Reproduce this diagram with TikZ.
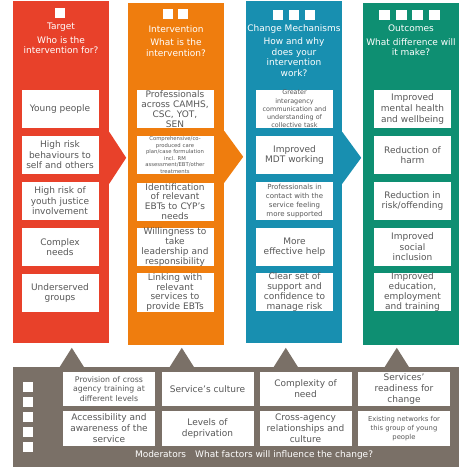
\documentclass[tikz,border=0pt]{standalone}
\usepackage{fontspec}
\setmainfont{DejaVu Sans}
\usetikzlibrary{positioning,calc}
\definecolor{targetred}{RGB}{232,65,42}
\definecolor{interorange}{RGB}{239,125,14}
\definecolor{mechteal}{RGB}{24,143,176}
\definecolor{outgreen}{RGB}{14,143,114}
\definecolor{modgray}{RGB}{122,112,103}
\definecolor{boxtext}{RGB}{88,88,88}

\begin{document}
\begin{tikzpicture}[x=1pt, y=-1pt,
    column/.style={rectangle, minimum width=96pt, minimum height=342pt, inner sep=0pt},
    header/.style={anchor=north, text=white, align=center, inner sep=0pt, font=\fontsize{9}{10.5}\selectfont},
    item/.style={rectangle, fill=white, minimum width=77pt, minimum height=38pt, text width=75pt, align=center, inner sep=0pt, text=boxtext, font=\fontsize{9}{10.6}\selectfont},
    fourline/.style={font=\fontsize{9}{9.9}\selectfont},
    small/.style={font=\fontsize{6.4}{8.3}\selectfont},
    tiny/.style={font=\fontsize{5.3}{6.6}\selectfont},
    factor/.style={rectangle, fill=white, minimum width=92pt, minimum height=34.5pt, text width=90pt, align=center, inner sep=0pt, text=boxtext, font=\fontsize{9}{11}\selectfont},
    sqbox/.style={fill=white}
]
    \useasboundingbox (0,0) rectangle (474,474);

    \node[column, fill=targetred] (target) at (61,172) {};
    \node[column, fill=interorange] (inter) at (176,173.5) {};
    \node[column, fill=mechteal] (mech) at (294,172) {};
    \node[column, fill=outgreen] (outcome) at (411,173.5) {};

    \fill[targetred] ($(target.north east)+(0,131)$) -- ++(17,26) -- ++(-17,26) -- cycle;
    \fill[interorange] ($(inter.north east)+(0,128.5)$) -- ++(19,26) -- ++(-19,26) -- cycle;
    \fill[mechteal] ($(mech.north east)+(0,131)$) -- ++(19,26) -- ++(-19,26) -- cycle;

    \fill[sqbox] (55,8) rectangle ++(10,10);
    \foreach \x in {163,178} \fill[sqbox] (\x,9) rectangle ++(10,10);
    \foreach \x in {273,289,305} \fill[sqbox] (\x,10) rectangle ++(10,10);
    \foreach \x in {379,395.5,412,428.5} \fill[sqbox] (\x,10) rectangle ++(11,10);

    \node[header] (targethead) at (61,23) {Target\\[3pt]Who is the\\intervention for?};
    \node[header] (interhead) at (176,25) {Intervention\\[3pt]What is the\\intervention?};
    \node[header] (mechhead) at (294,24) {Change Mechanisms\\[3pt]How and why\\does your\\intervention\\work?};
    \node[header] (outcomehead) at (411,25) {Outcomes\\[3pt]What difference will\\it make?};

    \node[item] (young) at (60,109) {Young people};
    \node[item] (risky) at (60,155) {High risk\\behaviours to\\self and others};
    \node[item] (justice) at (60,201) {High risk of\\youth justice\\involvement};
    \node[item] (complex) at (60,247) {Complex\\needs};
    \node[item] (underserved) at (60,293) {Underserved\\groups};

    \node[item, fourline] (profs) at (175,109) {Professionals\\across CAMHS,\\CSC, YOT,\\SEN};
    \node[item, tiny] (careplan) at (175,155) {Comprehensive/co-\\produced care\\plan/case formulation\\incl. RM\\assessment/EBT/other\\treatments};
    \node[item, fourline] (ebts) at (175,201.5) {Identification\\of relevant\\EBTs to CYP's\\needs};
    \node[item, fourline] (leader) at (175,247) {Willingness to\\take\\leadership and\\responsibility};
    \node[item, fourline] (linking) at (175,292.5) {Linking with\\relevant\\services to\\provide EBTs};

    \node[item, small] (interagency) at (294.5,109) {Greater\\interagency\\communication and\\understanding of\\collective task};
    \node[item] (mdt) at (294.5,155) {Improved\\MDT working};
    \node[item, font=\fontsize{7}{8.8}\selectfont] (supported) at (294.5,201) {Professionals in\\contact with the\\service feeling\\more supported};
    \node[item] (help) at (294.5,247) {More\\effective help};
    \node[item, fourline] (clearset) at (294.5,292) {Clear set of\\support and\\confidence to\\manage risk};

    \node[item] (mental) at (412.5,109) {Improved\\mental health\\and wellbeing};
    \node[item] (harm) at (412.5,155) {Reduction of\\harm};
    \node[item] (offending) at (412.5,201) {Reduction in\\risk/offending};
    \node[item] (inclusion) at (412.5,247) {Improved\\social\\inclusion};
    \node[item, fourline] (education) at (412.5,292) {Improved\\education,\\employment\\and training};

    \node[rectangle, fill=modgray, minimum width=446pt, minimum height=100pt, inner sep=0pt] (moderators) at (236,417) {};
    \fill[modgray] ($(moderators.north west)+(47,0)$) -- ++(12,-19) -- ++(12,19) -- cycle;
    \fill[modgray] ($(moderators.north west)+(157,0)$) -- ++(12,-19) -- ++(12,19) -- cycle;
    \fill[modgray] ($(moderators.north west)+(261,0)$) -- ++(12,-19) -- ++(12,19) -- cycle;
    \fill[modgray] ($(moderators.north west)+(372,0)$) -- ++(12,-19) -- ++(12,19) -- cycle;

    \foreach \y in {382,397,...,442} \fill[sqbox] (23,\y) rectangle ++(10,10);

    \node[factor, font=\fontsize{7.8}{9.7}\selectfont] (training) at (109,389) {Provision of cross\\agency training at\\different levels};
    \node[factor] (culture) at (207.5,389) {Service's culture};
    \node[factor] (complexity) at (305.5,389) {Complexity of\\need};
    \node[factor] (readiness) at (404,389) {Services'\\readiness for\\change};
    \node[factor] (access) at (109,428.5) {Accessibility and\\awareness of the\\service};
    \node[factor] (deprivation) at (207.5,428.5) {Levels of\\deprivation};
    \node[factor] (crossagency) at (305.5,428.5) {Cross-agency\\relationships and\\culture};
    \node[factor, font=\fontsize{6.8}{8.8}\selectfont] (networks) at (404,428.5) {Existing networks for\\this group of young\\people};

    \node[text=white, inner sep=0pt, font=\fontsize{9}{10}\selectfont] (modlabel) at (254,455) {Moderators\quad What factors will influence the change?};
\end{tikzpicture}
\end{document}
